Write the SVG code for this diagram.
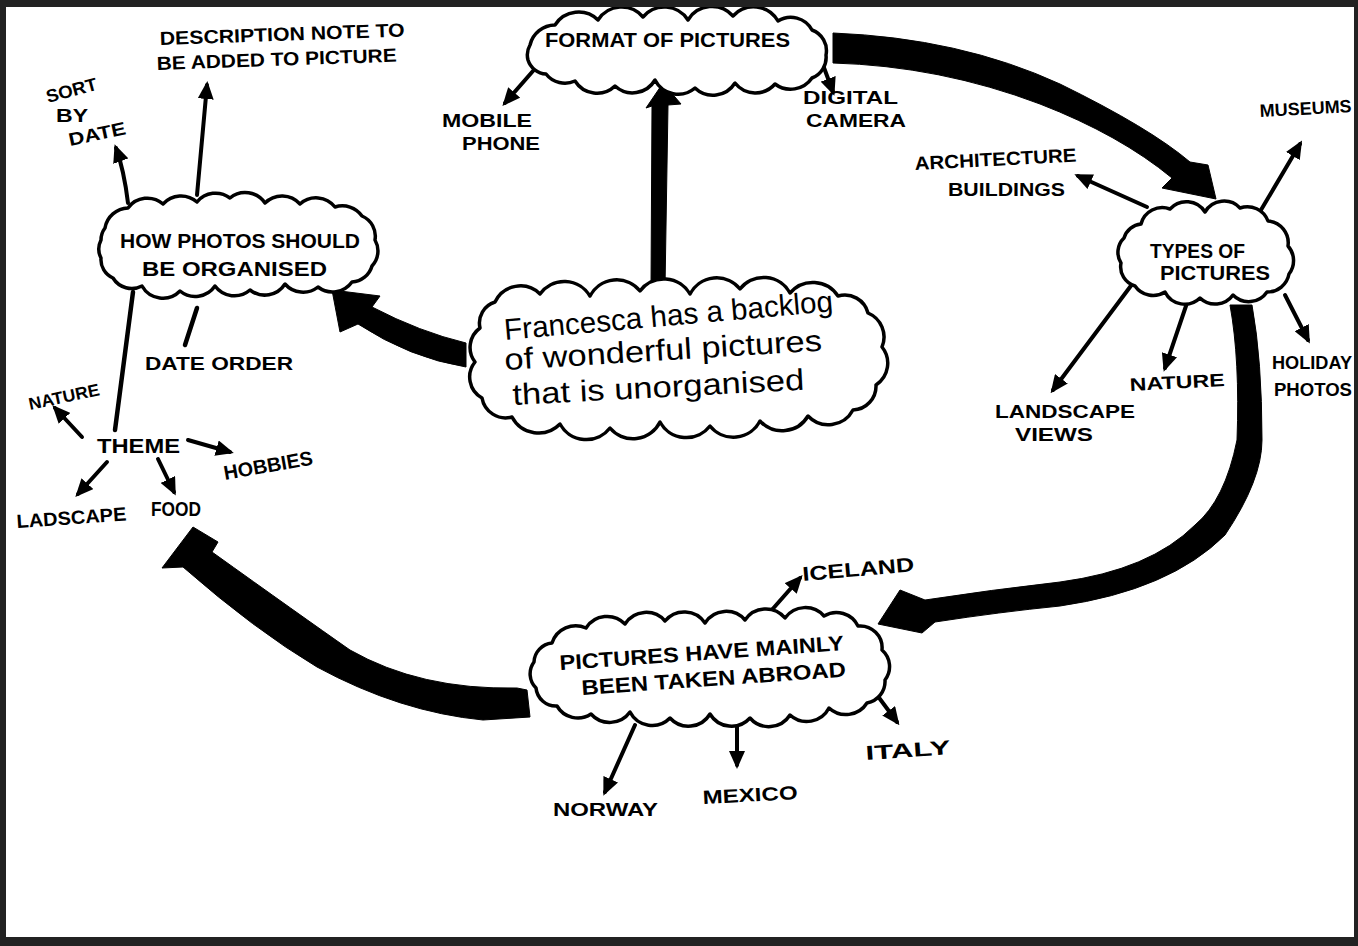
<svg xmlns="http://www.w3.org/2000/svg" width="1358" height="946" viewBox="0 0 1358 946">
<defs>
<style>
.cloud{fill:#fff;stroke:#000;stroke-width:3.5;stroke-linejoin:round}
.lbl{font-family:"Liberation Sans",Arial,sans-serif;font-weight:bold;fill:#000}
.hand{font-family:"Liberation Sans",Arial,sans-serif;font-weight:normal;fill:#000}
.thin{fill:none;stroke:#000;stroke-width:4;stroke-linecap:round;marker-end:url(#ah)}
.line{fill:none;stroke:#000;stroke-width:4.5;stroke-linecap:round}
.big{fill:#000;stroke:#000;stroke-width:1;stroke-linejoin:round}
</style>
<marker id="ah" markerUnits="userSpaceOnUse" markerWidth="18" markerHeight="16" refX="14" refY="8" orient="auto">
<path d="M0,0 L18,8 L0,16 z" fill="#000"/>
</marker>
</defs>
<rect x="0" y="0" width="1358" height="946" fill="#fff"/>

<g id="connectors">
<path class="big" d="M162,568 L193,527 L218,542 L212,552 Q 300,615 350,650 Q 420,690 517,688 L527,690 L530,717 L483,720 Q 400,712 317,667 Q 255,630 183,567 Z"/>
<path class="big" d="M332,290 L380,296 L372,307 Q 420,332 466,343 L466,367 Q 410,358 358,324 L340,332 Z"/>
<path class="big" d="M646,108 L663,83 L681,104 L668,105 L665,288 L651,288 L652,106 Z"/>
<path class="big" d="M833,33 Q 960,38 1060,84 Q 1150,128 1190,162 L1208,165 L1216,199 L1162,188 L1172,178 Q 1120,135 1040,104 Q 940,66 833,63 Z"/>
<path class="big" d="M1230,305 Q 1240,360 1237,440 Q 1225,500 1195,525 Q 1150,570 1060,582 Q 990,590 925,600 L900,590 L878,624 L922,633 L935,622 Q 1000,612 1060,606 Q 1170,590 1225,535 Q 1262,480 1262,440 Q 1262,360 1252,305 Z"/>
<path class="thin" d="M128,203 Q 124,170 116,148"/>
<path class="thin" d="M197,195 L207,85"/>
<path class="line" d="M133,292 L115,430"/>
<path class="line" d="M197,308 L185,345"/>
<path class="thin" d="M82,437 L55,408"/>
<path class="thin" d="M188,440 L230,452"/>
<path class="thin" d="M107,462 L78,494"/>
<path class="thin" d="M158,459 L174,492"/>
<path class="thin" d="M540,63 L505,103"/>
<path class="thin" d="M823,65 L833,92"/>
<path class="thin" d="M1147,207 L1078,176"/>
<path class="thin" d="M1258,215 L1300,144"/>
<path class="thin" d="M1133,283 L1053,390"/>
<path class="thin" d="M1188,300 L1165,368"/>
<path class="thin" d="M1285,295 L1308,340"/>
<path class="thin" d="M770,612 L800,578"/>
<path class="thin" d="M635,725 L605,792"/>
<path class="thin" d="M737,727 L737,765"/>
<path class="thin" d="M877,695 L897,722"/>
</g>

<g id="node-organised">
<path class="cloud" d="M105,228 A24,24 0 0 1 128,208 A24,24 0 0 1 163,204 A24,24 0 0 1 197,202 A24,24 0 0 1 230,198 A24,24 0 0 1 265,203 A24,24 0 0 1 300,204 A24,24 0 0 1 335,207 A24,24 0 0 1 362,216 A22,22 0 0 1 375,240 A22,22 0 0 1 372,266 A22,22 0 0 1 352,282 A24,24 0 0 1 318,287 A24,24 0 0 1 285,284 A24,24 0 0 1 250,290 A24,24 0 0 1 215,286 A24,24 0 0 1 180,291 A24,24 0 0 1 142,286 A22,22 0 0 1 113,278 A20,20 0 0 1 101,258 A20,20 0 0 1 101,240 A20,20 0 0 1 105,228 Z"/>
<text class="lbl" x="120" y="248" font-size="21" textLength="240" lengthAdjust="spacingAndGlyphs">HOW PHOTOS SHOULD</text>
<text class="lbl" x="142" y="276" font-size="21" textLength="185" lengthAdjust="spacingAndGlyphs">BE ORGANISED</text>
</g>

<g id="node-format">
<path class="cloud" d="M530,45 A26,26 0 0 1 555,25 A28,28 0 0 1 598,20 A28,28 0 0 1 643,17 A28,28 0 0 1 688,20 A28,28 0 0 1 733,16 A28,28 0 0 1 778,21 A24,24 0 0 1 812,30 A22,22 0 0 1 826,55 A22,22 0 0 1 812,78 A26,26 0 0 1 775,84 A26,26 0 0 1 735,83 A26,26 0 0 1 695,88 A26,26 0 0 1 655,80 A26,26 0 0 1 615,86 A26,26 0 0 1 575,81 A24,24 0 0 1 546,74 A20,20 0 0 1 528,60 A20,20 0 0 1 530,45 Z"/>
<text class="lbl" x="545" y="47" font-size="20" textLength="245" lengthAdjust="spacingAndGlyphs">FORMAT OF PICTURES</text>
</g>

<g id="node-francesca">
<path class="cloud" d="M495,302 A28,28 0 0 1 540,294 A30,30 0 0 1 590,296 A30,30 0 0 1 640,291 A30,30 0 0 1 690,294 A30,30 0 0 1 740,289 A30,30 0 0 1 790,293 A30,30 0 0 1 838,296 A24,24 0 0 1 868,313 A26,26 0 0 1 882,347 A26,26 0 0 1 876,385 A24,24 0 0 1 853,410 A28,28 0 0 1 808,416 A30,30 0 0 1 760,421 A30,30 0 0 1 710,426 A30,30 0 0 1 660,422 A30,30 0 0 1 610,428 A30,30 0 0 1 560,424 A30,30 0 0 1 512,417 A24,24 0 0 1 482,398 A24,24 0 0 1 475,362 A24,24 0 0 1 480,328 A22,22 0 0 1 495,302 Z"/>
<text class="hand" x="505" y="340" font-size="30" textLength="330" lengthAdjust="spacingAndGlyphs" transform="rotate(-5 505 340)">Francesca has a backlog</text>
<text class="hand" x="505" y="370" font-size="30" textLength="318" lengthAdjust="spacingAndGlyphs" transform="rotate(-3.5 505 370)">of wonderful pictures</text>
<text class="hand" x="513" y="405" font-size="30" textLength="292" lengthAdjust="spacingAndGlyphs" transform="rotate(-3 513 405)">that is unorganised</text>
</g>

<g id="node-types">
<path class="cloud" d="M1141,224 A22,22 0 0 1 1170,209 A22,22 0 0 1 1205,212 A22,22 0 0 1 1240,208 A22,22 0 0 1 1268,221 A22,22 0 0 1 1288,246 A22,22 0 0 1 1289,274 A22,22 0 0 1 1267,292 A22,22 0 0 1 1233,295 A22,22 0 0 1 1200,298 A22,22 0 0 1 1165,292 A22,22 0 0 1 1135,286 A20,20 0 0 1 1121,263 A20,20 0 0 1 1124,238 A20,20 0 0 1 1141,224 Z"/>
<text class="lbl" x="1150" y="258" font-size="20" textLength="95" lengthAdjust="spacingAndGlyphs">TYPES OF</text>
<text class="lbl" x="1160" y="280" font-size="20" textLength="110" lengthAdjust="spacingAndGlyphs">PICTURES</text>
</g>

<g id="node-abroad">
<path class="cloud" d="M552,643 A25,25 0 0 1 586,628 A25,25 0 0 1 625,624 A25,25 0 0 1 665,621 A25,25 0 0 1 705,623 A25,25 0 0 1 745,620 A25,25 0 0 1 785,618 A25,25 0 0 1 824,616 A24,24 0 0 1 858,626 A22,22 0 0 1 882,650 A22,22 0 0 1 885,680 A22,22 0 0 1 867,703 A25,25 0 0 1 829,708 A25,25 0 0 1 790,715 A25,25 0 0 1 750,718 A25,25 0 0 1 710,714 A25,25 0 0 1 670,718 A25,25 0 0 1 630,712 A25,25 0 0 1 591,714 A24,24 0 0 1 557,706 A20,20 0 0 1 536,688 A20,20 0 0 1 534,662 A20,20 0 0 1 552,643 Z"/>
<text class="lbl" x="560" y="670" font-size="21" textLength="285" lengthAdjust="spacingAndGlyphs" transform="rotate(-4 560 670)">PICTURES HAVE MAINLY</text>
<text class="lbl" x="582" y="695" font-size="21" textLength="265" lengthAdjust="spacingAndGlyphs" transform="rotate(-4 582 695)">BEEN TAKEN ABROAD</text>
</g>

<g id="node-description"><text class="lbl" x="160" y="45" font-size="19" textLength="245" lengthAdjust="spacingAndGlyphs" transform="rotate(-2 160 45)">DESCRIPTION NOTE TO</text>
<text class="lbl" x="157" y="70" font-size="19" textLength="240" lengthAdjust="spacingAndGlyphs" transform="rotate(-2 157 70)">BE ADDED TO PICTURE</text></g>
<g id="node-sortbydate"><text class="lbl" x="48" y="103" font-size="18" textLength="52" lengthAdjust="spacingAndGlyphs" transform="rotate(-15 48 103)">SORT</text>
<text class="lbl" x="56" y="122" font-size="18" textLength="32" lengthAdjust="spacingAndGlyphs">BY</text>
<text class="lbl" x="70" y="146" font-size="18" textLength="58" lengthAdjust="spacingAndGlyphs" transform="rotate(-12 70 146)">DATE</text></g>
<g id="node-dateorder"><text class="lbl" x="145" y="370" font-size="19" textLength="148" lengthAdjust="spacingAndGlyphs">DATE ORDER</text></g>
<g id="node-theme"><text class="lbl" x="97" y="453" font-size="20" textLength="83" lengthAdjust="spacingAndGlyphs">THEME</text></g>
<g id="node-nature-left"><text class="lbl" x="30" y="410" font-size="17" textLength="72" lengthAdjust="spacingAndGlyphs" transform="rotate(-12 30 410)">NATURE</text></g>
<g id="node-hobbies"><text class="lbl" x="225" y="480" font-size="20" textLength="90" lengthAdjust="spacingAndGlyphs" transform="rotate(-10 225 480)">HOBBIES</text></g>
<g id="node-landscape-left"><text class="lbl" x="17" y="528" font-size="19" textLength="110" lengthAdjust="spacingAndGlyphs" transform="rotate(-4 17 528)">LADSCAPE</text></g>
<g id="node-food"><text class="lbl" x="151" y="516" font-size="20" textLength="50" lengthAdjust="spacingAndGlyphs">FOOD</text></g>
<g id="node-mobile"><text class="lbl" x="442" y="127" font-size="19" textLength="90" lengthAdjust="spacingAndGlyphs">MOBILE</text>
<text class="lbl" x="462" y="150" font-size="19" textLength="78" lengthAdjust="spacingAndGlyphs">PHONE</text></g>
<g id="node-digital"><text class="lbl" x="803" y="104" font-size="19" textLength="95" lengthAdjust="spacingAndGlyphs">DIGITAL</text>
<text class="lbl" x="806" y="127" font-size="19" textLength="100" lengthAdjust="spacingAndGlyphs">CAMERA</text></g>
<g id="node-architecture"><text class="lbl" x="915" y="170" font-size="19" textLength="162" lengthAdjust="spacingAndGlyphs" transform="rotate(-3 915 170)">ARCHITECTURE</text>
<text class="lbl" x="948" y="196" font-size="19" textLength="117" lengthAdjust="spacingAndGlyphs">BUILDINGS</text></g>
<g id="node-museums"><text class="lbl" x="1260" y="117" font-size="18" textLength="92" lengthAdjust="spacingAndGlyphs" transform="rotate(-3 1260 117)">MUSEUMS</text></g>
<g id="node-landscape-views"><text class="lbl" x="995" y="418" font-size="19" textLength="140" lengthAdjust="spacingAndGlyphs">LANDSCAPE</text>
<text class="lbl" x="1015" y="441" font-size="19" textLength="78" lengthAdjust="spacingAndGlyphs">VIEWS</text></g>
<g id="node-nature-right"><text class="lbl" x="1130" y="391" font-size="18" textLength="95" lengthAdjust="spacingAndGlyphs" transform="rotate(-3 1130 391)">NATURE</text></g>
<g id="node-holiday"><text class="lbl" x="1272" y="369" font-size="19" textLength="80" lengthAdjust="spacingAndGlyphs">HOLIDAY</text>
<text class="lbl" x="1274" y="396" font-size="19" textLength="78" lengthAdjust="spacingAndGlyphs">PHOTOS</text></g>
<g id="node-iceland"><text class="lbl" x="803" y="581" font-size="20" textLength="112" lengthAdjust="spacingAndGlyphs" transform="rotate(-5 803 581)">ICELAND</text></g>
<g id="node-norway"><text class="lbl" x="553" y="816" font-size="19" textLength="105" lengthAdjust="spacingAndGlyphs">NORWAY</text></g>
<g id="node-mexico"><text class="lbl" x="703" y="804" font-size="19" textLength="95" lengthAdjust="spacingAndGlyphs" transform="rotate(-3 703 804)">MEXICO</text></g>
<g id="node-italy"><text class="lbl" x="866" y="760" font-size="20" textLength="85" lengthAdjust="spacingAndGlyphs" transform="rotate(-4 866 760)">ITALY</text></g>

<path d="M0,0 H1358 V946 H0 Z M6,7 V937 H1354 V7 Z" fill="#222" fill-rule="evenodd"/>
</svg>
